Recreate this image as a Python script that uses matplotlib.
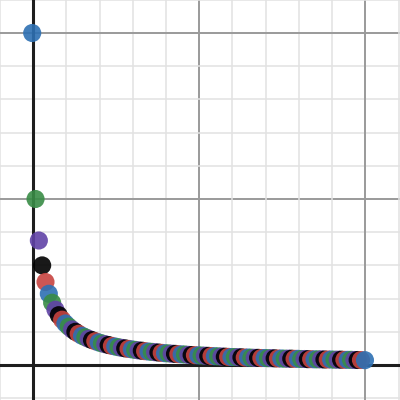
import matplotlib
matplotlib.use("Agg")
import matplotlib.pyplot as plt

# point positions (units: one major grid cell = 1)
x_vals = [
    -0.006, 0.014, 0.034, 0.054, 0.074, 0.094, 0.114, 0.134, 0.154, 0.174,
    0.194, 0.214, 0.234, 0.254, 0.274, 0.294, 0.314, 0.334, 0.354, 0.374,
    0.394, 0.414, 0.434, 0.454, 0.474, 0.494, 0.514, 0.534, 0.554, 0.574,
    0.594, 0.614, 0.634, 0.654, 0.674, 0.694, 0.714, 0.734, 0.754, 0.774,
    0.794, 0.814, 0.834, 0.854, 0.874, 0.894, 0.914, 0.934, 0.954, 0.974,
    0.994, 1.014, 1.034, 1.054, 1.074, 1.094, 1.114, 1.134, 1.154, 1.174,
    1.194, 1.214, 1.234, 1.254, 1.274, 1.294, 1.314, 1.334, 1.354, 1.374,
    1.394, 1.414, 1.434, 1.454, 1.474, 1.494, 1.514, 1.534, 1.554, 1.574,
    1.594, 1.614, 1.634, 1.654, 1.674, 1.694, 1.714, 1.734, 1.754, 1.774,
    1.794, 1.814, 1.834, 1.854, 1.874, 1.894, 1.914, 1.934, 1.954, 1.974,
    1.998,
]
y_vals = [
    2.000, 1.000, 0.750, 0.600, 0.500, 0.429, 0.375, 0.333, 0.300, 0.273,
    0.250, 0.231, 0.214, 0.200, 0.188, 0.176, 0.167, 0.158, 0.150, 0.143,
    0.136, 0.130, 0.125, 0.120, 0.115, 0.111, 0.107, 0.103, 0.100, 0.097,
    0.094, 0.091, 0.088, 0.086, 0.083, 0.081, 0.079, 0.077, 0.075, 0.073,
    0.071, 0.070, 0.068, 0.067, 0.065, 0.064, 0.063, 0.061, 0.060, 0.059,
    0.058, 0.057, 0.056, 0.055, 0.054, 0.053, 0.052, 0.051, 0.050, 0.049,
    0.048, 0.048, 0.047, 0.046, 0.045, 0.045, 0.044, 0.043, 0.043, 0.042,
    0.042, 0.041, 0.041, 0.040, 0.039, 0.039, 0.038, 0.038, 0.038, 0.037,
    0.037, 0.036, 0.036, 0.035, 0.035, 0.034, 0.034, 0.034, 0.033, 0.033,
    0.033, 0.032, 0.032, 0.032, 0.031, 0.031, 0.031, 0.030, 0.030, 0.030,
    0.029,
]

palette = ["#2d70b3", "#388c46", "#6042a6", "#000000", "#c74440"]
colors = [palette[i % len(palette)] for i in range(len(x_vals))]

fig = plt.figure(figsize=(4, 4), dpi=100)
ax = fig.add_axes([0, 0, 1, 1])
ax.set_xlim(-0.2, 2.209)
ax.set_ylim(-0.211, 2.199)
ax.axis("off")

# grid: minor every 0.2, major every 1
for k in range(-1, 12):
    v = k * 0.2
    major = k % 5 == 0
    c = "#9a9a9a" if major else "#e2e2e2"
    lw = 1.4 if major else 1.1
    ax.axvline(v, color=c, lw=lw, zorder=1)
    ax.axhline(v, color=c, lw=lw, zorder=1)

# axes
ax.axvline(0, color="#1e1e1e", lw=2.2, zorder=2)
ax.axhline(0, color="#1e1e1e", lw=2.2, zorder=2)

ax.scatter(x_vals, y_vals, s=170, c=colors, alpha=0.9, linewidths=0, zorder=3)

fig.savefig("out.png", dpi=100)
